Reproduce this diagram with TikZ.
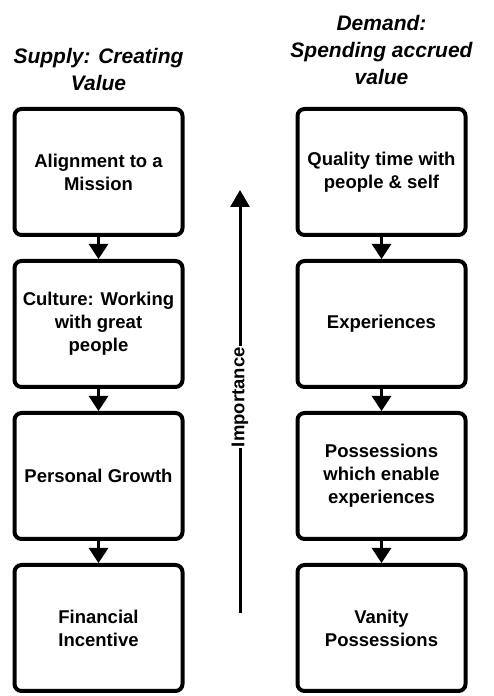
\documentclass[tikz,border=0pt]{standalone}
\usepackage{fontspec}
\setmainfont{Liberation Sans}
\usetikzlibrary{arrows.meta,positioning}

\begin{document}
\begin{tikzpicture}[
  x=1pt,y=1pt,
  node distance=22pt,
  box/.style={draw,line width=4pt,rounded corners=7pt,align=center,
              minimum width=168pt,minimum height=126pt,
              font=\bfseries\fontsize{18.5}{23}\selectfont},
  heading/.style={align=center,inner sep=0pt,
                  font=\bfseries\itshape\fontsize{21}{27}\selectfont},
  flow/.style={line width=3pt,-{Triangle[length=15pt,width=19pt]}},
  rank/.style={line width=3pt,-{Triangle[length=17pt,width=19pt]}}
]
  \useasboundingbox (0,0) rectangle (494,696);

  % supply side
  \node[box] (sup1) at (98.5,524) {Alignment to a\\Mission};
  \node[box,below=of sup1] (sup2) {Culture: Working\\with great\\people};
  \node[box,below=of sup2] (sup3) {Personal Growth};
  \node[box,below=of sup3] (sup4) {Financial\\Incentive};
  \node[heading,above=16pt of sup1] (suphead) {Supply: Creating\\Value};

  % demand side
  \node[box] (dem1) at (381.5,524) {Quality time with\\people \& self};
  \node[box,below=of dem1] (dem2) {Experiences};
  \node[box,below=of dem2] (dem3) {Possessions\\which enable\\experiences};
  \node[box,below=of dem3] (dem4) {Vanity\\Possessions};
  \node[heading,above=22pt of dem1] (demhead) {Demand:\\Spending accrued\\value};

  \draw[flow] (sup1) -- (sup2);
  \draw[flow] (sup2) -- (sup3);
  \draw[flow] (sup3) -- (sup4);
  \draw[flow] (dem1) -- (dem2);
  \draw[flow] (dem2) -- (dem3);
  \draw[flow] (dem3) -- (dem4);

  % importance axis
  \coordinate (low) at (240,83);
  \coordinate (high) at (240,506);
  \draw[rank] (low) -- node[pos=0.51,rotate=90,fill=white,inner sep=1pt,
    font=\bfseries\fontsize{18.5}{21}\selectfont] (imp) {Importance} (high);
\end{tikzpicture}
\end{document}
